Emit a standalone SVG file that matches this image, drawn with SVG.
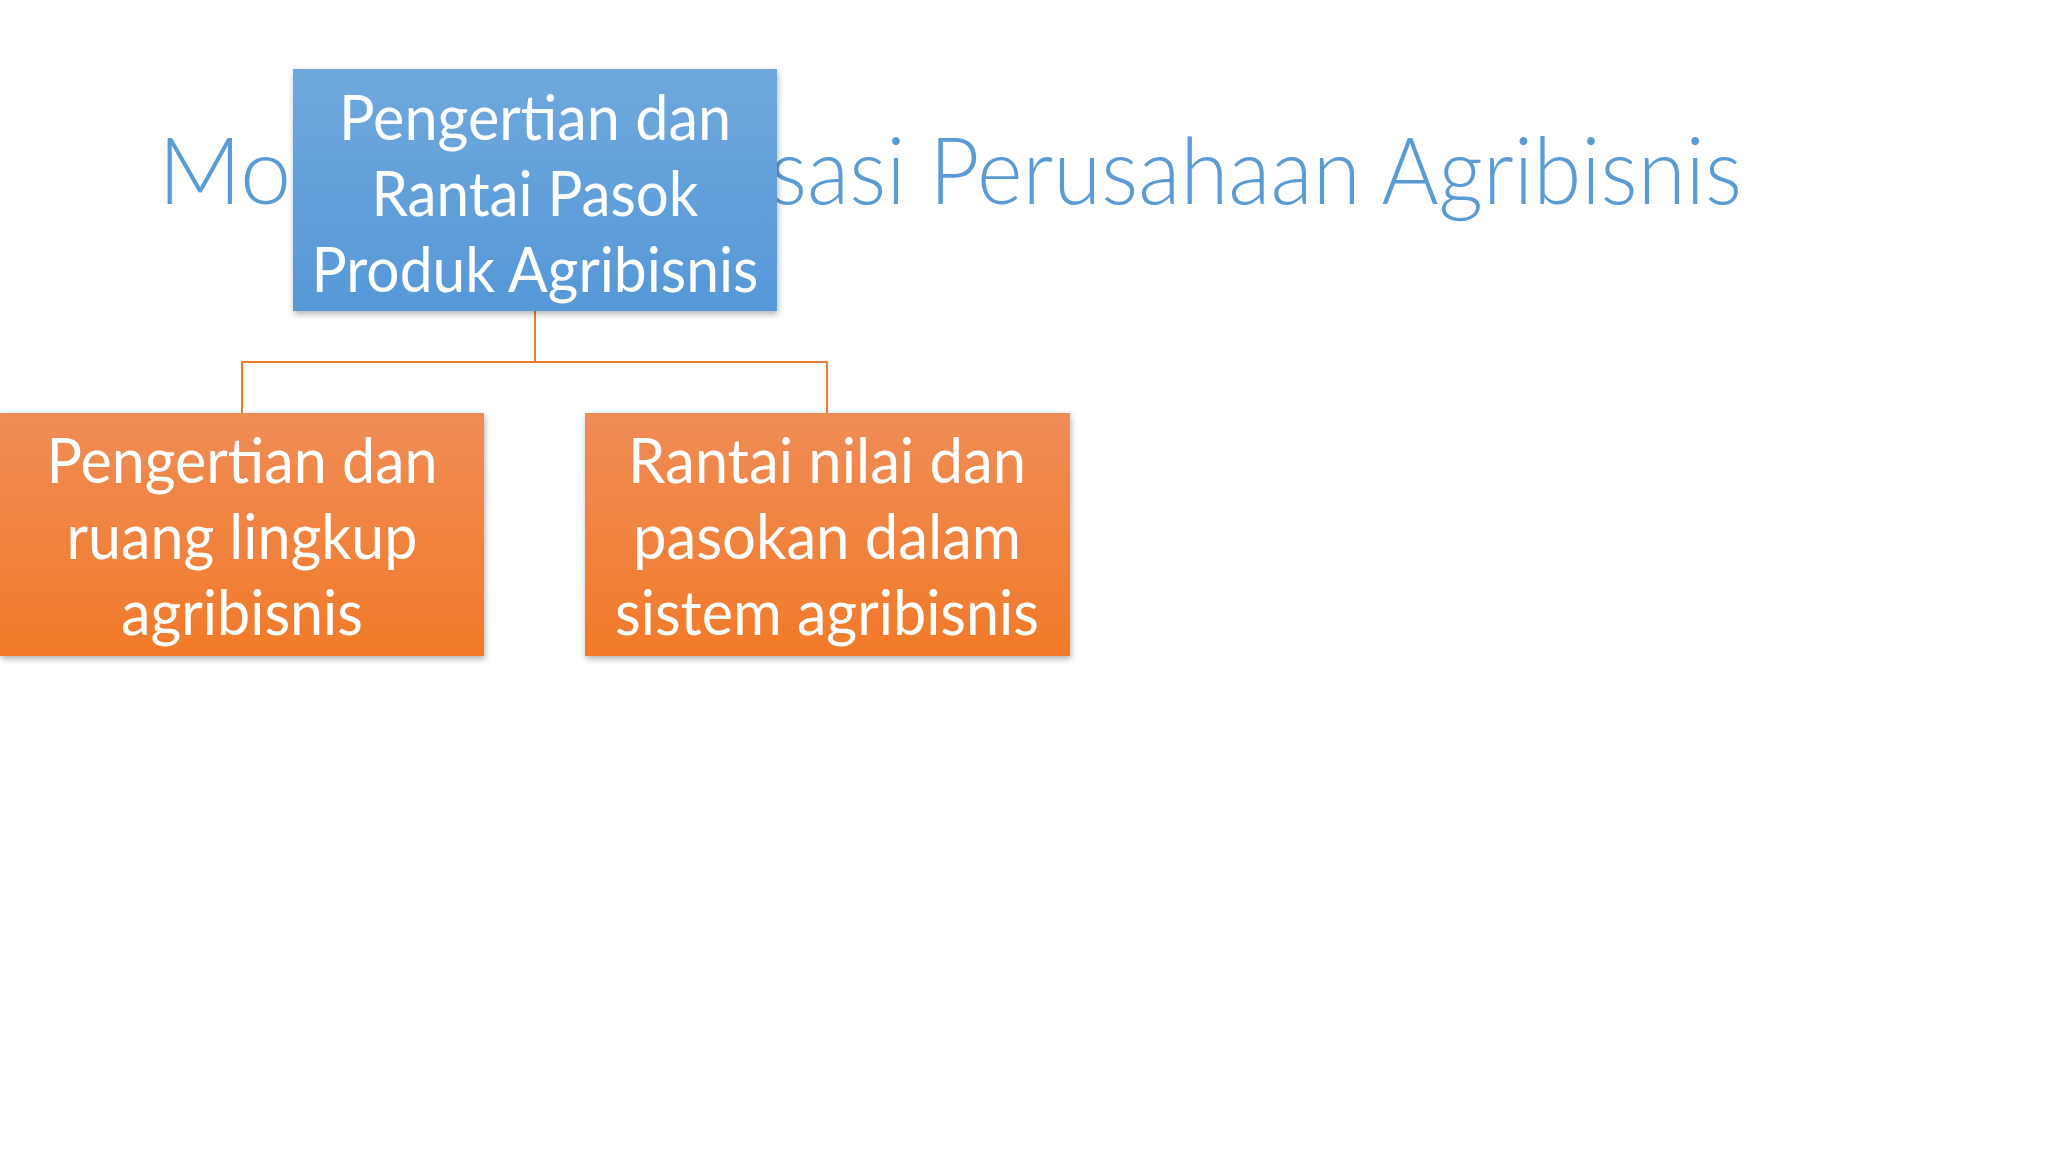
<svg xmlns="http://www.w3.org/2000/svg" width="2048" height="1152" viewBox="0 0 2048 1152">
<style>
.title{font-family:Lato,"Liberation Sans",sans-serif;font-weight:300;font-size:92px;fill:#5B9BD5}
.lbl{font-family:Lato,"Open Sans","Liberation Sans",sans-serif;font-size:62px;fill:#FFFFFF;text-anchor:middle}
.conn{fill:none;stroke:#ED7D31;stroke-width:2}
</style>
<defs>
<linearGradient id="gBlue" x1="0" y1="0" x2="0" y2="1">
<stop offset="0" stop-color="#6FA8DC"/>
<stop offset="1" stop-color="#5698D8"/>
</linearGradient>
<linearGradient id="gOrange" x1="0" y1="0" x2="0" y2="1">
<stop offset="0" stop-color="#EF8C56"/>
<stop offset="1" stop-color="#F27A29"/>
</linearGradient>
<filter id="sh" x="-5%" y="-5%" width="115%" height="120%">
<feDropShadow dx="1" dy="3" stdDeviation="3" flood-color="#000" flood-opacity="0.3"/>
</filter>
</defs>
<rect width="2048" height="1152" fill="#FFFFFF"/>
<text class="title" y="204"><tspan x="158">Model Organi</tspan><tspan x="770" textLength="972" lengthAdjust="spacingAndGlyphs">sasi Perusahaan Agribisnis</tspan></text>
<g id="connectors">
<path class="conn" d="M535 311 V362 M242 413 V362 H827 V413"/>
</g>
<g id="node-top">
<rect x="293" y="69" width="484" height="242" fill="url(#gBlue)" filter="url(#sh)"/>
<text class="lbl"><tspan x="535" y="140" textLength="392" lengthAdjust="spacingAndGlyphs">Pengertian dan</tspan><tspan x="535" y="216" textLength="327" lengthAdjust="spacingAndGlyphs">Rantai Pasok</tspan><tspan x="535" y="292" textLength="447" lengthAdjust="spacingAndGlyphs">Produk Agribisnis</tspan></text>
</g>
<g id="node-left">
<rect x="0" y="413" width="484" height="243" fill="url(#gOrange)" filter="url(#sh)"/>
<text class="lbl"><tspan x="242" y="483" textLength="391" lengthAdjust="spacingAndGlyphs">Pengertian dan</tspan><tspan x="242" y="559" textLength="351" lengthAdjust="spacingAndGlyphs">ruang lingkup</tspan><tspan x="242" y="635" textLength="242" lengthAdjust="spacingAndGlyphs">agribisnis</tspan></text>
</g>
<g id="node-right">
<rect x="585" y="413" width="485" height="243" fill="url(#gOrange)" filter="url(#sh)"/>
<text class="lbl"><tspan x="827" y="483" textLength="398" lengthAdjust="spacingAndGlyphs">Rantai nilai dan</tspan><tspan x="827" y="559" textLength="388" lengthAdjust="spacingAndGlyphs">pasokan dalam</tspan><tspan x="827" y="635" textLength="424" lengthAdjust="spacingAndGlyphs">sistem agribisnis</tspan></text>
</g>
</svg>
